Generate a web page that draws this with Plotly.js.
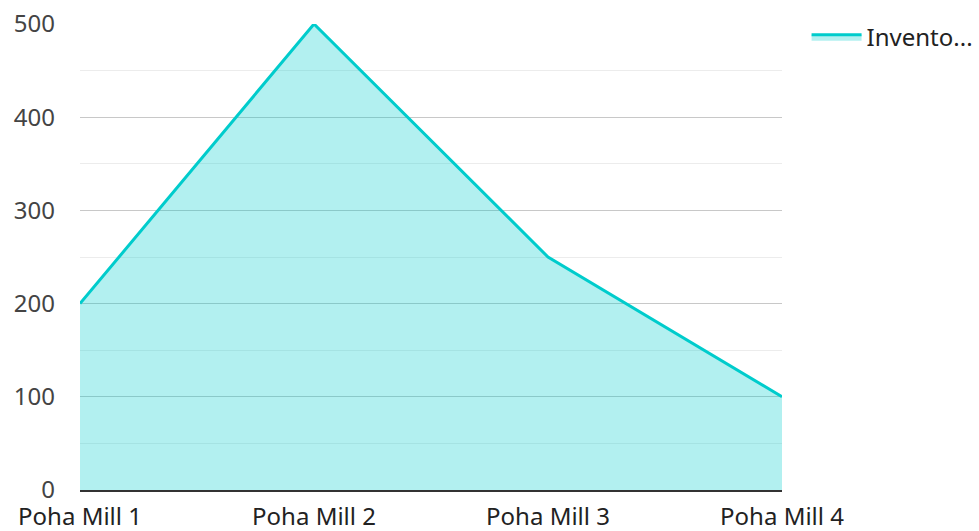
<!DOCTYPE html>
<html>
<head>
<meta charset="utf-8">
<script src="https://cdn.plot.ly/plotly-3.0.1.min.js"></script>
<style>html,body{margin:0;padding:0;background:#fff;}#chart{width:979px;height:531px;}</style>
</head>
<body>
<div id="chart"></div>
<script>
var categories = ["Poha Mill 1", "Poha Mill 2", "Poha Mill 3", "Poha Mill 4"];
var inventory = [200, 500, 250, 100];
var seriesName = "Invento...";
var yTicks = [0, 100, 200, 300, 400, 500];

var trace = {
  x: categories,
  y: inventory,
  name: seriesName,
  type: "scatter",
  mode: "lines",
  fill: "tozeroy",
  fillcolor: "rgba(0,204,204,0.3)",
  line: {color: "#00cccc", width: 3}
};

var layout = {
  width: 979,
  height: 531,
  margin: {l: 80, r: 197, t: 24, b: 41, autoexpand: false},
  paper_bgcolor: "#fff",
  plot_bgcolor: "#fff",
  font: {family: "Noto Sans, sans-serif", size: 24, color: "#333"},
  showlegend: true,
  legend: {x: 1.035, y: 1.02, xanchor: "left", yanchor: "top", itemwidth: 50, font: {size: 24, color: "#222"}},
  xaxis: {
    type: "category",
    range: [0, 3],
    showgrid: false,
    zeroline: false,
    showline: true,
    linecolor: "#333",
    linewidth: 2,
    ticks: "",
    ticklabelstandoff: 4,
    tickfont: {size: 24, color: "#222"}
  },
  yaxis: {
    range: [0, 500],
    tickvals: yTicks,
    showgrid: true,
    gridcolor: "#c8c8c8",
    gridwidth: 1,
    minor: {dtick: 50, showgrid: true, gridcolor: "#ececec", gridwidth: 1},
    zeroline: false,
    showline: false,
    ticks: "",
    ticklabelstandoff: 24,
    tickfont: {size: 24, color: "#444"}
  }
};

Plotly.newPlot("chart", [trace], layout, {displayModeBar: false, staticPlot: true});
</script>
</body>
</html>
